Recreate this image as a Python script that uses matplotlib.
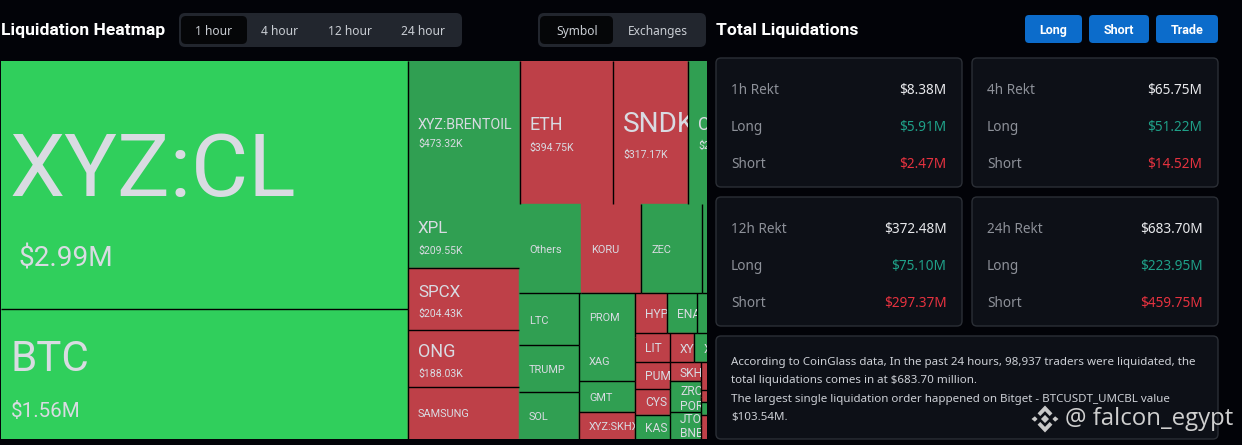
import matplotlib
matplotlib.use("Agg")
import matplotlib.pyplot as plt
from matplotlib.patches import Rectangle, FancyBboxPatch, Polygon
from matplotlib.transforms import Bbox, TransformedBbox

# ---------- data (values in thousands of USD) ----------
KEYS = ["XYZ:CL", "BTC", "XYZ:BRENTOIL", "ETH", "SNDK", "C", "XPL", "SPCX", "ONG", "SAMSUNG",
        "Others", "KORU", "ZEC", "_g1", "LTC", "TRUMP", "SOL", "PROM", "XAG", "GMT", "XYZ:SKHX",
        "HYPE", "ENA", "_g2", "LIT", "PUMP", "CYS", "KAS", "XYZ", "X", "SKH", "ZRO", "POR",
        "JTO", "BNB", "_r1", "_r2", "_g3", "_r3"]
VALUES = [2990, 1560, 473.32, 394.75, 317.17, 265, 209.55, 204.43, 188.03, 169.5,
          163, 158, 160, 129, 92, 83.5, 83.5, 73, 73, 51.3, 44.7,
          37.9, 35.5, 63.9, 30, 28, 27, 24.8, 21, 49.7, 17.4, 14, 14, 12.4, 12.4, 40, 19, 19, 35]
RED = {"ETH", "SNDK", "SPCX", "ONG", "SAMSUNG", "KORU", "XYZ:SKHX", "HYPE", "LIT", "PUMP", "CYS",
       "XYZ", "SKH", "_r1", "_r2", "_r3"}
BRIGHT = {"XYZ:CL", "BTC"}

TOTALS = ["1h Rekt", "4h Rekt", "12h Rekt", "24h Rekt"]
TOTAL_ALL = ["$8.38M", "$65.75M", "$372.48M", "$683.70M"]
TOTAL_LONG = ["$5.91M", "$51.22M", "$75.10M", "$223.95M"]
TOTAL_SHORT = ["$2.47M", "$14.52M", "$297.37M", "$459.75M"]

NOTE = ["According to CoinGlass data, In the past 24 hours, 98,937 traders were liquidated, the",
        "total liquidations comes in at $683.70 million.",
        "The largest single liquidation order happened on Bitget - BTCUSDT_UMCBL value",
        "$103.54M."]
HOURS = ["1 hour", "4 hour", "12 hour", "24 hour"]
MODES = ["Symbol", "Exchanges"]
BUTTONS = ["Long", "Short", "Trade"]

# ---------- treemap structure: slice directions, weights come from VALUES ----------
TREE = ("h", [
    ("v", ["XYZ:CL", "BTC"]),
    ("v", [
        ("h", ["XYZ:BRENTOIL", "ETH", "SNDK", "C"]),
        ("h", [
            ("v", ["XPL", "SPCX", "ONG", "SAMSUNG"]),
            ("v", [
                ("h", ["Others", "KORU", "ZEC", "_g1"]),
                ("h", [
                    ("v", ["LTC", "TRUMP", "SOL"]),
                    ("v", ["PROM", "XAG", "GMT", "XYZ:SKHX"]),
                    ("v", [
                        ("h", ["HYPE", "ENA", "_g2"]),
                        ("h", [
                            ("v", ["LIT", "PUMP", "CYS", "KAS"]),
                            ("v", [
                                ("h", ["XYZ", "X"]),
                                ("h", [
                                    ("v", ["SKH", "ZRO", "POR", "JTO", "BNB"]),
                                    ("v", ["_r1", "_r2", "_g3", "_r3"]),
                                ]),
                            ]),
                        ]),
                    ]),
                ]),
            ]),
        ]),
    ]),
])
# sides of each cell that carry a black separator
SIDES = {"XYZ:CL": "rb", "BTC": "r", "XYZ:BRENTOIL": "r", "ETH": "r", "SNDK": "r", "XPL": "b", "SPCX": "b",
         "ONG": "b", "Others": "b", "KORU": "rb", "ZEC": "rb", "_g1": "b", "LTC": "rb", "TRUMP": "rb",
         "SOL": "r", "PROM": "r", "XAG": "rb", "GMT": "rb", "XYZ:SKHX": "r", "HYPE": "rb", "ENA": "rb",
         "_g2": "b", "LIT": "rb", "PUMP": "rb", "CYS": "rb", "KAS": "r", "XYZ": "rb", "X": "b", "SKH": "rb",
         "ZRO": "r", "POR": "rb", "JTO": "r", "BNB": "r", "_r1": "b", "_r2": "b", "_g3": "b"}
# label: dx, dy from the cell's top-left, font px ; value: dx, dy, font px
LABEL = {"XYZ:CL": (9, 111, 88), "BTC": (10, 50, 42), "XYZ:BRENTOIL": (10, 64, 14.2), "ETH": (10, 64, 18),
         "SNDK": (10, 64, 28), "C": (10, 64, 18), "XPL": (10, 25, 17), "SPCX": (10, 25, 17), "ONG": (10, 22, 18),
         "SAMSUNG": (10, 27, 11), "Others": (10, 46, 11), "KORU": (10, 46, 11), "ZEC": (10, 46, 11),
         "LTC": (10, 28, 11), "TRUMP": (10, 25, 11), "SOL": (10, 25, 11), "PROM": (10, 25, 11), "XAG": (10, 25, 11),
         "GMT": (10, 17, 11), "XYZ:SKHX": (10, 15, 11), "HYPE": (10, 22, 12), "ENA": (10, 22, 12), "LIT": (10, 16, 12),
         "XYZ": (10, 17, 12), "X": (10, 17, 12), "PUMP": (10, 15, 12), "SKH": (10, 11, 12), "CYS": (10, 14, 12),
         "KAS": (10, 13, 12), "ZRO": (10, 10, 12), "POR": (10, 10, 12), "JTO": (10, 8, 12), "BNB": (10, 8, 12)}
VALUE = {"XYZ:CL": (17, 198, 28), "BTC": (10, 102, 20.5), "XYZ:BRENTOIL": (10, 83, 10.5), "ETH": (10, 87, 10.5),
         "SNDK": (10, 94, 10.5), "C": (10, 85, 10.5), "XPL": (10, 47, 10.5), "SPCX": (10, 46, 10.5), "ONG": (10, 44, 10.5)}

BG = "#020308"
GREEN_B, GREEN, REDC = "#30CF5C", "#309F52", "#BE4048"
TXT = "#D9DBE2"
FONT_MAP = "Roboto"
FONT_UI = "Noto Sans"
FONT_BOLD = "Roboto"

W, H = 1242, 445
fig = plt.figure(figsize=(W / 100, H / 100), dpi=100, facecolor=BG)
ax = fig.add_axes([0, 0, 1, 1])
ax.set_xlim(0, W)
ax.set_ylim(H, 0)
ax.axis("off")

val = dict(zip(KEYS, VALUES))


def weight(n):
    return val[n] if isinstance(n, str) else sum(weight(c) for c in n[1])


def layout(n, x, y, w, h, out):
    if isinstance(n, str):
        out[n] = (x, y, w, h)
        return
    tot = weight(n)
    for c in n[1]:
        f = weight(c) / tot
        if n[0] == "h":
            layout(c, x, y, w * f, h, out)
            x += w * f
        else:
            layout(c, x, y, w, h * f, out)
            y += h * f


def money(v):
    return f"${v / 1000:.2f}M" if v >= 1000 else f"${v:.2f}K"


def px(p):
    return p * 0.72


MAP_X, MAP_Y, MAP_H, MAP_CLIP = 1, 61, 378, 707
PX_PER_K = 407 * MAP_H / 4550
MAP_W = sum(VALUES) * PX_PER_K / MAP_H
rects = {}
layout(TREE, MAP_X, MAP_Y, MAP_W, MAP_H, rects)
frame = Rectangle((MAP_X, MAP_Y), MAP_CLIP - MAP_X, MAP_H, transform=ax.transData, fc="none", ec="none")
ax.add_patch(frame)

for k in KEYS:
    x, y, w, h = rects[k]
    col = GREEN_B if k in BRIGHT else REDC if k in RED else GREEN
    r = Rectangle((x, y), w, h, fc=col, ec=col, lw=0.3, zorder=2)
    ax.add_patch(r)
    r.set_clip_path(frame)
for k in KEYS:
    x, y, w, h = rects[k]
    s = SIDES.get(k, "")
    if "r" in s:
        l, = ax.plot([x + w, x + w], [y, y + h], color="#000000", lw=1.0, zorder=3, solid_capstyle="butt")
        l.set_clip_path(frame)
    if "b" in s:
        l, = ax.plot([x, x + w], [y + h, y + h], color="#000000", lw=1.0, zorder=3, solid_capstyle="butt")
        l.set_clip_path(frame)
    cell = Bbox.from_extents(x, y, min(x + w, MAP_CLIP), y + h)
    box = TransformedBbox(cell, ax.transData)
    if k in LABEL:
        dx, dy, fs = LABEL[k]
        t = ax.text(x + dx, y + dy, k, color=TXT, fontsize=px(fs), family=FONT_MAP, va="center", ha="left", zorder=4)
        t.set_clip_box(box)
        t.set_clip_on(True)
    if k in VALUE:
        dx, dy, fs = VALUE[k]
        t = ax.text(x + dx, y + dy, money(val[k]), color=TXT, fontsize=px(fs), family=FONT_MAP, va="center",
                    ha="left", zorder=4)
        t.set_clip_box(box)
        t.set_clip_on(True)


def rbox(x0, y0, x1, y1, fc, ec="none", rad=4, lw=1, z=1):
    ax.add_patch(FancyBboxPatch((x0 + rad, y0 + rad), x1 - x0 - 2 * rad, y1 - y0 - 2 * rad,
                                boxstyle=f"round,pad={rad},rounding_size={rad}", fc=fc, ec=ec, lw=lw, zorder=z))


# header
ax.text(1, 30.5, "Liquidation Heatmap", color="#FFFFFF", fontsize=px(17.5), family=FONT_BOLD, weight="bold", va="center")
rbox(179, 13, 462, 47, "#22262E", rad=6)
rbox(181, 16, 247, 44, "#050608", rad=5, z=2)
for s, cx in zip(HOURS, [214, 280, 350, 423]):
    ax.text(cx, 35, s, color="#C9CDD3", fontsize=px(12), family=FONT_UI, ha="center", va="baseline", zorder=3)
rbox(538, 13, 706, 47, "#22262E", rad=6)
rbox(540, 16, 613, 44, "#050608", rad=5, z=2)
for s, cx in zip(MODES, [577, 658]):
    ax.text(cx, 35, s, color="#C9CDD3", fontsize=px(12), family=FONT_UI, ha="center", va="baseline", zorder=3)

ax.text(716, 30.5, "Total Liquidations", color="#FFFFFF", fontsize=px(17.5), family=FONT_BOLD, weight="bold", va="center")
for s, (x0, x1) in zip(BUTTONS, [(1025, 1082), (1089, 1149), (1156, 1218)]):
    rbox(x0, 15, x1, 43, "#0C6CCB", rad=4)
    ax.text((x0 + x1) / 2, 34, s, color="#FFFFFF", fontsize=px(12.5), family=FONT_BOLD, weight="bold", ha="center",
            va="baseline", zorder=3)

# cards
CARD_BG, CARD_EC = "#0D1017", "#2B2F36"
GREY, TEAL, PINK, WHITE = "#8D9199", "#1FA088", "#E5323F", "#E8E9EC"
cards = [(716, 58, 962, 187), (972, 58, 1218, 187), (716, 197, 962, 326), (972, 197, 1218, 326)]
for (x0, y0, x1, y1), a, b, c, d in zip(cards, TOTALS, TOTAL_ALL, TOTAL_LONG, TOTAL_SHORT):
    rbox(x0, y0, x1, y1, CARD_BG, CARD_EC, rad=5, lw=1)
    for dy, l, v, col in [(36, a, b, WHITE), (73, "Long", c, TEAL), (110, "Short", d, PINK)]:
        ax.text(x0 + 15, y0 + dy, l, color=GREY, fontsize=px(13.6), family=FONT_UI, va="baseline", zorder=3)
        ax.text(x1 - 15.5, y0 + dy, v, color=col, fontsize=px(13.6), family=FONT_UI, va="baseline", ha="right", zorder=3)
rbox(716, 336, 1218, 439, CARD_BG, CARD_EC, rad=5, lw=1)
for s, y in zip(NOTE, [365, 383, 402, 420]):
    ax.text(731, y, s, color="#CDD0D6", fontsize=px(11.55), family=FONT_UI, va="baseline", zorder=3)

# watermark
LOGO = "#C9C9C9"
cx, cy, u = 1045, 419, 13.5
ax.add_patch(Polygon([(cx - .3 * u, cy), (cx, cy - .3 * u), (cx + .3 * u, cy), (cx, cy + .3 * u)], fc=LOGO, zorder=5))
for sy in (-1, 1):
    ax.add_patch(Polygon([(cx - .55 * u, cy + sy * .42 * u), (cx, cy + sy * 1.0 * u), (cx + .55 * u, cy + sy * .42 * u),
                          (cx + .35 * u, cy + sy * .22 * u), (cx, cy + sy * .58 * u), (cx - .35 * u, cy + sy * .22 * u)],
                         fc=LOGO, zorder=5))
for sx in (-1, 1):
    ax.add_patch(Polygon([(cx + sx * .75 * u, cy - .2 * u), (cx + sx * 1.0 * u, cy), (cx + sx * .75 * u, cy + .2 * u),
                          (cx + sx * .55 * u, cy)], fc=LOGO, zorder=5))
ax.text(1065, 419, "@ falcon_egypt", color="#CFCFCF", fontsize=px(24), family="Open Sans", va="center", zorder=6)

fig.savefig("out.png", dpi=100, facecolor=BG)
